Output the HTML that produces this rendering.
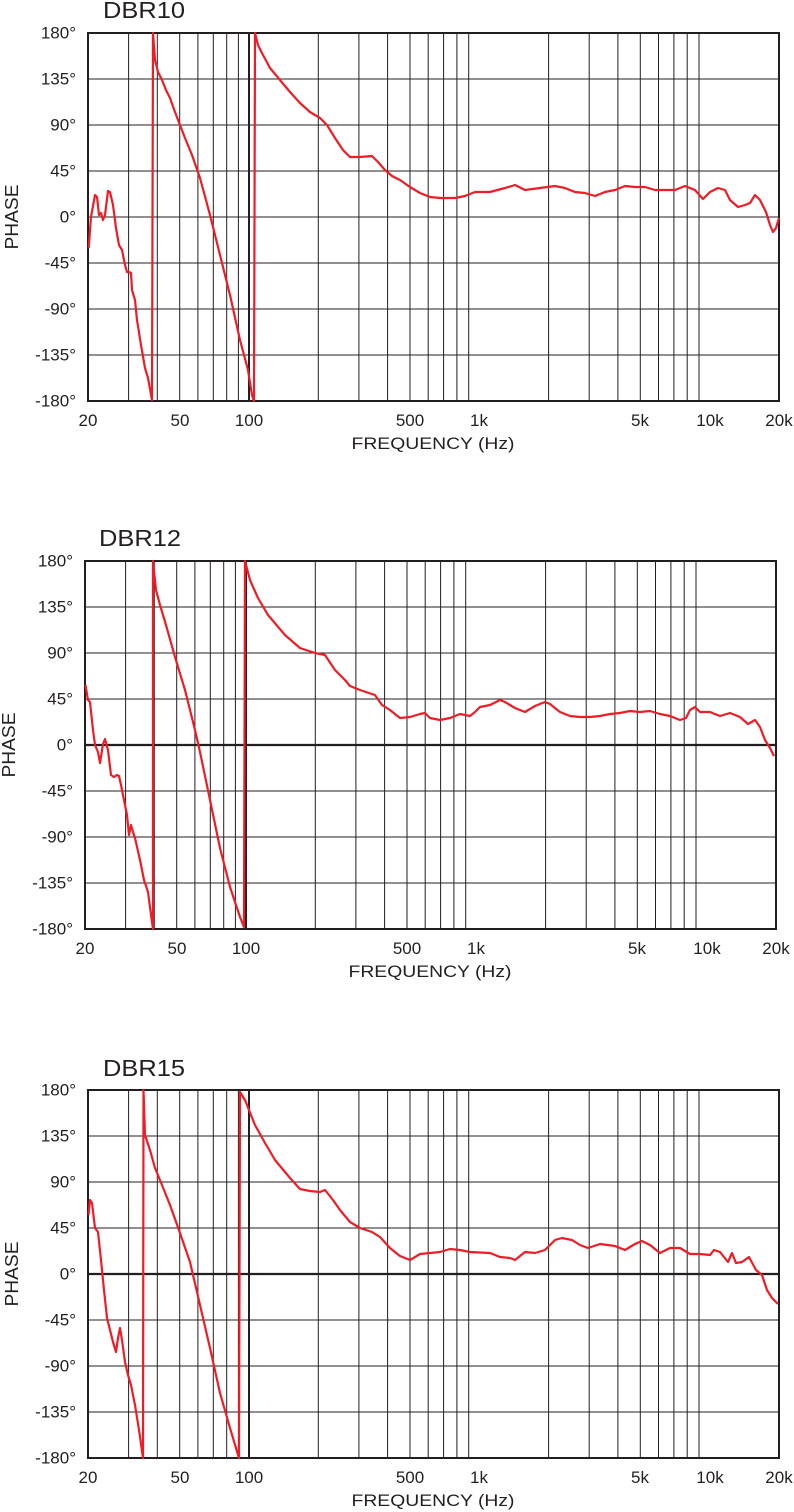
<!DOCTYPE html>
<html><head><meta charset="utf-8"><style>
body{margin:0;background:#fff}
svg{display:block}
text{font-family:"Liberation Sans",Arial,sans-serif;fill:#231f20}
.yl{font-size:17px;text-anchor:end;dominant-baseline:central}
.xl{font-size:17px;text-anchor:middle}
.g{stroke:#231f20;stroke-width:1;fill:none}
.c{stroke:#ee1c25;stroke-width:2.2;fill:none;stroke-linejoin:round}
</style></head><body>
<svg width="794" height="1512" viewBox="0 0 794 1512" xmlns="http://www.w3.org/2000/svg">
<defs>
<g id="grid">
<path class="g" d="M0 46H691M0 92H691M0 138H691M0 230H691M0 276H691M0 322H691
M40.6 0V368M69.3 0V368M91.7 0V368M109.9 0V368M125.3 0V368M138.7 0V368M150.4 0V368
M230.3 0V368M270.9 0V368M299.6 0V368M322 0V368M340.2 0V368M355.6 0V368M368.9 0V368M380.7 0V368
M460.6 0V368M501.2 0V368M529.9 0V368M552.3 0V368M570.5 0V368M585.9 0V368M599.2 0V368M611 0V368"/>
<rect x="0" y="0" width="691" height="368" fill="none" stroke="#231f20" stroke-width="2"/>
<path d="M161 0V368" stroke="#231f20" stroke-width="2"/>
<text class="yl" x="-12" y="0">180°</text>
<text class="yl" x="-12" y="46">135°</text>
<text class="yl" x="-12" y="92">90°</text>
<text class="yl" x="-12" y="138">45°</text>
<text class="yl" x="-12" y="184">0°</text>
<text class="yl" x="-12" y="230">-45°</text>
<text class="yl" x="-12" y="276">-90°</text>
<text class="yl" x="-12" y="322">-135°</text>
<text class="yl" x="-12" y="368">-180°</text>
<text class="xl" x="0" y="393">20</text>
<text class="xl" x="92" y="393">50</text>
<text class="xl" x="161" y="393">100</text>
<text class="xl" x="322" y="393">500</text>
<text class="xl" x="391" y="393">1k</text>
<text class="xl" x="552" y="393">5k</text>
<text class="xl" x="622" y="393">10k</text>
<text class="xl" x="691" y="393">20k</text>
<text class="xl" x="345" y="416" textLength="163" lengthAdjust="spacingAndGlyphs">FREQUENCY (Hz)</text>
<text font-size="18" text-anchor="middle" textLength="65" lengthAdjust="spacingAndGlyphs" transform="translate(-76 184) rotate(-90)" dominant-baseline="central">PHASE</text>
</g>
</defs>

<!-- Chart 1 -->
<g transform="translate(88 33)">
<use href="#grid"/>
<path class="g" d="M0 184H691"/>
</g>
<text x="103" y="18" font-size="23" textLength="82" lengthAdjust="spacingAndGlyphs">DBR10</text>
<polyline class="c" points="88.7,248 91,217 95,195 97,197 99,215 101,213 103,220 105,215 108,191 110,192 113,205 116,228 119,245 122,250 125,265 127,272 129,272 131,273 132,290 135,300 137,320 141,345 145,368 148,378 152,400 153,33 155,60 158,72 162,80 166,90 170,98 175,112 180,125 185,138 192,155 200,178 210,215 220,255 230,295 240,340 248,370 252,395 254,401 255,33 258,45 263,55 270,68 280,80 290,92 300,103 310,112 320,118 327,125 335,138 343,150 350,157 360,157 372,156 378,162 385,170 392,176 400,180 410,187 420,193 430,197 440,198 455,198 465,196 475,192 490,192 505,188 515,185 525,190 540,188 555,186 565,188 575,192 585,193 595,196 605,192 615,190 625,186 635,187 645,187 655,190 665,190 675,190 685,186 695,190 703,199 710,192 718,188 725,190 730,200 738,207 745,205 750,203 755,195 760,200 766,212 770,225 773,232 776,228 779,218"/>

<!-- Chart 2 -->
<g transform="translate(85 561)">
<use href="#grid"/>
<path d="M0 184H691" stroke="#231f20" stroke-width="2.2"/>
</g>
<text x="99" y="546" font-size="23" textLength="82" lengthAdjust="spacingAndGlyphs">DBR12</text>
<polyline class="c" points="85.5,685 88,700 90,702 93,730 95,745 98,752 100,763 103,744 105,739 108,750 111,775 114,777 117,775 119,776 121,785 124,800 127,815 129,835 131,825 133,832 135,838 140,860 144,880 148,892 152,922 153,929 153,561 156,590 160,605 166,625 175,657 185,690 195,730 200,752 210,800 220,848 230,887 240,917 244,927 245,561 250,580 258,598 268,615 285,635 300,648 315,653 325,655 335,670 345,680 350,686 360,690 375,695 382,705 390,710 400,718 410,717 420,714 425,713 430,718 440,720 450,718 460,714 470,716 475,712 480,707 490,705 500,700 505,702 515,708 525,712 535,706 545,702 550,704 560,712 570,716 580,717 590,717 600,716 610,714 620,713 630,711 640,712 650,711 660,714 670,716 680,720 686,718 690,710 695,707 700,712 710,712 720,716 730,713 740,717 748,724 755,720 760,727 765,740 770,748 774,756"/>

<!-- Chart 3 -->
<g transform="translate(88 1090)">
<use href="#grid"/>
<path d="M0 184H691" stroke="#231f20" stroke-width="2.2"/>
</g>
<text x="103" y="1076" font-size="23" textLength="82" lengthAdjust="spacingAndGlyphs">DBR15</text>
<polyline class="c" points="88.5,1215 90,1200 92,1203 95,1228 98,1232 101,1260 104,1290 107,1318 110,1330 113,1342 116,1352 118,1338 120,1328 122,1340 125,1362 128,1375 131,1385 135,1405 139,1430 143,1458 143.5,1090 145,1135 150,1150 155,1168 162,1185 170,1205 180,1233 190,1262 200,1305 210,1348 220,1393 230,1428 236,1448 239,1458 240,1092 245,1100 255,1125 265,1143 275,1160 290,1178 300,1189 310,1191 320,1192 325,1190 333,1200 340,1210 350,1222 360,1228 372,1232 380,1237 390,1248 400,1256 410,1260 420,1254 430,1253 440,1252 450,1249 460,1250 470,1252 490,1253 500,1257 510,1258 515,1260 520,1256 525,1252 535,1253 545,1250 555,1240 562,1238 572,1240 580,1245 588,1248 600,1244 615,1246 625,1250 635,1244 642,1241 650,1245 660,1253 670,1248 680,1248 690,1254 700,1254 710,1255 714,1250 720,1252 728,1262 732,1253 736,1263 742,1262 749,1257 756,1270 762,1275 767,1290 772,1298 778,1304"/>
</svg>
</body></html>
